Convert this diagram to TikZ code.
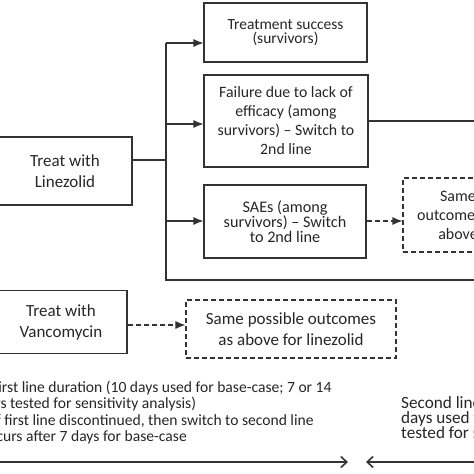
\documentclass[tikz,border=0pt]{standalone}
\usepackage{fontspec}
\setmainfont{Carlito}
\usetikzlibrary{arrows.meta}
\tikzset{
  box/.style={draw=black!80, line width=1.1pt, inner sep=0pt, align=center, text=black!85},
  dbox/.style={box, dash pattern=on 5pt off 3pt},
  note/.style={anchor=base west, inner sep=0pt, text=black!85, font=\fontsize{15.6}{16.5}\selectfont},
  link/.style={draw=black!80, line width=1.1pt},
}
\begin{document}
\begin{tikzpicture}[x=1pt, y=-1pt]
            \useasboundingbox (0,0) rectangle (474,474);
            \node[box, minimum width=134pt, minimum height=68pt, font=\fontsize{17}{21}\selectfont] (lin) at (65,171) {Treat with\\Linezolid};      % linezolid arm
            \node[box, minimum width=132pt, minimum height=63pt, font=\fontsize{17}{21}\selectfont] (van) at (61,322) {Treat with\\Vancomycin};    % vancomycin arm
            \node[box, minimum width=163pt, minimum height=59pt, font=\fontsize{15.5}{14.5}\selectfont] (ok) at (285.5,32.5) {Treatment success\\(survivors)};
            \node[box, minimum width=164pt, minimum height=92pt, font=\fontsize{15.8}{19}\selectfont] (fail) at (286,121) {Failure due to lack of\\efficacy (among\\survivors) -- Switch to\\2nd line};
            \node[box, minimum width=162pt, minimum height=73pt, font=\fontsize{16.2}{12.6}\selectfont] (sae) at (285,221.5) {SAEs (among\\survivors) -- Switch\\to 2nd line};
            \node[dbox, minimum width=110pt, minimum height=74pt, font=\fontsize{16}{19}\selectfont] (sameA) at (458,215) {Same\\outcomes as\\above};
            \node[dbox, minimum width=210pt, minimum height=58pt, font=\fontsize{17}{21.5}\selectfont] (sameB) at (291,329) {Same possible outcomes\\as above for linezolid};
            % tree
            \coordinate (split) at (166,160);
            \coordinate (t1) at (166,43);
            \coordinate (t2) at (166,124);
            \coordinate (t3) at (166,221);
            \coordinate (t4) at (166,280);
            \coordinate (e1) at (480,121);
            \coordinate (e2) at (480,280);
            \draw[link] (lin.east |- split) -- (split);
            \draw[link] (t1) -- (t4) -- (e2);
            \draw[link, -{Latex[length=10pt,width=8pt]}] (t1) -- (ok.west |- t1);
            \draw[link, -{Latex[length=10pt,width=8pt]}] (t2) -- (fail.west |- t2);
            \draw[link, -{Latex[length=10pt,width=8pt]}] (t3) -- (sae.west |- t3);
            \draw[link] (fail.east) -- (e1);
            \draw[link, dash pattern=on 5pt off 3pt, -{Latex[length=10pt,width=8pt]}] (sae.east |- t3) -- (sameA.west |- t3);
            \draw[link, dash pattern=on 5pt off 3pt, -{Latex[length=10pt,width=8pt]}] ([yshift=-3pt]van.east) -- ([yshift=-3pt]van.east -| sameB.west);
            % notes
            \node[note] (n1) at (-9,392) {First line duration (10 days used for base-case; 7 or 14};
            \node[note] (n2) at (-22,408) {days tested for sensitivity analysis)};
            \node[note] (n3) at (-8,425) {If first line discontinued, then switch to second line};
            \node[note] (n4) at (-18.5,441) {occurs after 7 days for base-case};
            \node[note, font=\fontsize{17.2}{15.5}\selectfont] (m1) at (401,408) {Second line duration (14};
            \node[note, font=\fontsize{17.2}{15.5}\selectfont] (m2) at (401,423) {days used for base-case;};
            \node[note, font=\fontsize{17.2}{15.5}\selectfont] (m3) at (401,438) {tested for sensitivity};
            % time line
            \coordinate (a1) at (-10,462);
            \coordinate (a2) at (348,462);
            \coordinate (a3) at (366,462);
            \coordinate (a4) at (480,462);
            \draw[link, line width=1.6pt, -{Straight Barb[length=6pt,width=11pt]}] (a1) -- (a2);
            \draw[link, line width=1.6pt, {Straight Barb[length=6pt,width=11pt]}-] (a3) -- (a4);
        \end{tikzpicture}
\end{document}
